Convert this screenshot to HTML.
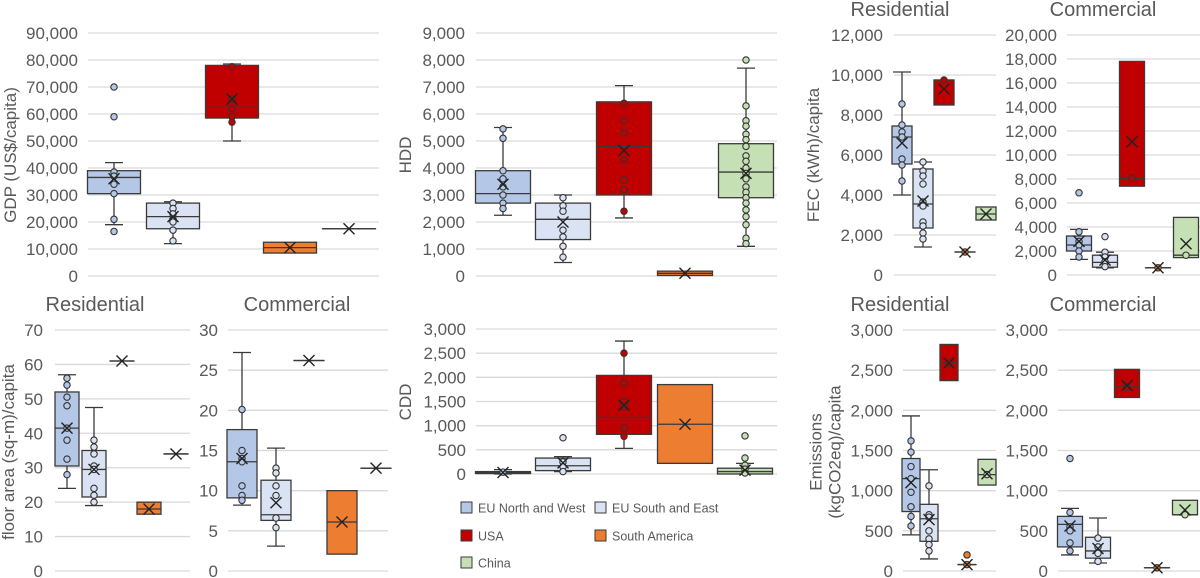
<!DOCTYPE html>
<html><head><meta charset="utf-8"><style>
html,body{margin:0;padding:0;background:#fff;width:1200px;height:578px;overflow:hidden}
svg text{font-family:"Liberation Sans",sans-serif;fill:#595959}
</style></head><body>
<svg id="c" width="1200" height="578" xmlns="http://www.w3.org/2000/svg"></svg>
<script>
const groups = ["EU North and West","EU South and East","USA","South America","China"];
const colors = ["#b4c7e7","#dae3f3","#c00000","#ed7d31","#c5e0b4"];
// stats: [whiskerLow, q1, median, q3, whiskerHigh, mean]
const gdpStats = [[19000,30500,36500,39000,42000,36000],[12000,17500,22000,27000,27500,22000],[50000,58500,62500,78000,78500,65500],[8500,8500,10500,12500,12500,10500],[17500,17500,17500,17500,17500,17500]];
const gdpPoints = [[70000,59000,38500,37000,34000,30500,21000,16500],[27000,25000,23000,21000,20000,17000,13000],[77500,65500,62000,59000,57000],[],[]];
const hddStats = [[2250,2700,3050,3900,5500,3400],[500,1350,2100,2700,3000,2000],[2150,3000,4800,6450,7050,4650],[20,20,100,180,180,100],[1100,2900,3850,4900,7700,3800]];
const hddPoints = [[5450,5100,3900,3600,3300,3000,2700,2500],[2900,2600,2400,1700,1450,1100,700],[6400,5750,5300,4300,3550,3200,2400],[],[8000,6300,5750,5550,5250,5050,4800,4450,4250,4000,3800,3600,3300,3100,2900,2700,2450,2200,1900,1400,1200]];
const fecResStats = [[4000,5550,6900,7450,10150,6600],[1400,2350,3550,5300,5650,3700],[8500,8500,9750,9750,9750,9300],[1150,1150,1150,1150,1150,1150],[2750,2750,3050,3400,3400,3050]];
const fecResPoints = [[8550,7500,7150,6900,5800,5500,4700],[5650,5200,4950,4550,3650,3450,2650,2450,2100,1800],[9750],[1150],[]];
const fecComStats = [[1300,2000,2500,3250,3800,2800],[600,650,1050,1650,1900,1250],[7400,7400,8050,17800,17800,11100],[600,600,600,600,600,600],[1450,1450,1650,4800,4800,2600]];
const fecComPoints = [[6850,3600,2800,2500,2000,1500],[3200,1900,1500,1100,700],[8050],[600],[1650]];
const faResStats = [[24,30.5,41.5,52,57,41.5],[19,21.5,29.5,35,47.5,29.5],[61,61,61,61,61,61],[16.5,16.5,18,20,20,18],[34,34,34,34,34,34]];
const faResPoints = [[56,54,50.5,48,41.5,38,32.5,28],[38,36,34,30.5,29.5,24,22,20],[],[],[]];
const faComStats = [[8.2,9.1,13.6,17.6,27.2,14],[3.1,6.3,7,11.3,15.3,8.5],[26.2,26.2,26.2,26.2,26.2,26.2],[2.1,2.1,6.1,10,10,6.1],[12.8,12.8,12.8,12.8,12.8,12.8]];
const faComPoints = [[20.1,15,14,13.6,10.6,9.4,8.8],[12.8,12.2,10.6,9.4,6.6,5.4],[],[],[]];
const cddStats = [[0,10,30,50,90,30],[50,70,170,330,360,230],[530,820,1170,2040,2750,1420],[220,220,1030,1850,1850,1030],[0,0,50,120,220,80]];
const cddPoints = [[40],[750,250,150,50],[2500,1880,1500,1400,950,780],[],[790,330,180,100,20]];
const emResStats = [[450,740,1150,1400,1930,1100],[150,370,650,830,1260,640],[2370,2370,2590,2820,2820,2590],[80,80,80,80,80,80],[1070,1070,1200,1390,1390,1210]];
const emResPoints = [[1620,1480,1300,1150,980,800,680,560],[1060,700,670,500,400,330,250],[2590],[200,80],[1200]];
const emComStats = [[200,300,580,680,780,560],[100,160,250,420,660,280],[2160,2160,2290,2510,2510,2310],[40,40,40,40,40,40],[700,700,700,880,880,760]];
const emComPoints = [[1400,730,550,500,350,250],[410,300,220,120],[2290],[40],[700]];

const NS="http://www.w3.org/2000/svg";
const svg=document.getElementById('c');
function mk(tag,attrs,parent){const e=document.createElementNS(NS,tag);for(const k in attrs)e.setAttribute(k,attrs[k]);(parent||svg).appendChild(e);return e;}
function fmt(v){return v.toLocaleString('en-US');}

function panel(cfg){
  const g=mk('g',{});
  
  
  const y=v=>cfg.y0+(cfg.y1-cfg.y0)*v/cfg.max;
  for(let t=0;t<=cfg.max+1e-9;t+=cfg.step){
    const ln=mk('line',{x1:cfg.gx0,x2:cfg.gx1,y1:y(t),y2:y(t),stroke:'#d9d9d9','stroke-width':1.3},g);
    
    
    const tx=mk('text',{x:cfg.lx,y:y(t)+6,'text-anchor':'end','font-size':17},g);
    tx.textContent=fmt(t);
    
    
  }
  if(cfg.title){
    const tt=mk('text',{x:cfg.tx,y:cfg.ty,'text-anchor':'middle','font-size':20},g);
    tt.textContent=cfg.title;
    
    
  }
  const lines=cfg.ytitle;
  lines.forEach((s,i)=>{
    const yx=cfg.ytx+i*19-(lines.length-1)*9.5;
    const t=mk('text',{x:yx,y:cfg.yty,'text-anchor':'middle','font-size':17,transform:`rotate(-90 ${yx} ${cfg.yty})`,dy:6},g);
    t.textContent=s;
    
    
  });
  cfg.stats.forEach((st,i)=>{
    const cx=cfg.cx[i],w=cfg.bw,col=colors[i];
    const bg=mk('g',{},g);
    
    
    const [lo,q1,md,q3,hi,mn]=st;
    const sk={stroke:'#3a3a3a','stroke-width':1.3};
    mk('line',Object.assign({x1:cx,x2:cx,y1:y(hi),y2:y(q3)},sk),bg);
    mk('line',Object.assign({x1:cx,x2:cx,y1:y(q1),y2:y(lo)},sk),bg);
    if(hi>q3) mk('line',Object.assign({x1:cx-9,x2:cx+9,y1:y(hi),y2:y(hi)},sk),bg);
    if(lo<q1) mk('line',Object.assign({x1:cx-9,x2:cx+9,y1:y(lo),y2:y(lo)},sk),bg);
    mk('rect',Object.assign({x:cx-w/2,y:y(q3),width:w,height:Math.max(0.01,y(q1)-y(q3)),fill:col},sk),bg);
    mk('line',Object.assign({x1:cx-w/2,x2:cx+w/2,y1:y(md),y2:y(md)},sk),bg);
    cfg.points[i].forEach(p=>{
      const c=mk('circle',{cx:cx,cy:y(p),r:3.2,fill:col,stroke:'#333','stroke-width':1.1},bg);
      
      
    });
    const m=y(mn),s=5.5;
    const mx=mk('path',{d:`M${cx-s},${m-s}L${cx+s},${m+s}M${cx-s},${m+s}L${cx+s},${m-s}`,stroke:'#222','stroke-width':1.4,fill:'none'},bg);
    
    
  });
}

panel({name:'gdp-panel',max:90000,step:10000,y0:276,y1:33,gx0:88,gx1:379,lx:78,cx:[114,173,232,290,349],bw:53,stats:gdpStats,points:gdpPoints,ytitle:['GDP (US$/capita)'],ytx:10,yty:155});
panel({name:'hdd-panel',max:9000,step:1000,y0:276,y1:33,gx0:476,gx1:777,lx:465,cx:[503,563,624,685,746],bw:55,stats:hddStats,points:hddPoints,ytitle:['HDD'],ytx:405,yty:155});
panel({name:'fec-residential-panel',max:12000,step:2000,y0:275,y1:35,gx0:894,gx1:996,lx:883,cx:[902,923,944,965,986],bw:20,stats:fecResStats,points:fecResPoints,ytitle:['FEC (kWh)/capita'],ytx:813,yty:155,title:'Residential',tx:900,ty:16});
panel({name:'fec-commercial-panel',max:20000,step:2000,y0:275,y1:35,gx0:1067,gx1:1200,lx:1057,cx:[1079,1105,1132,1158,1186],bw:25,stats:fecComStats,points:fecComPoints,ytitle:[],title:'Commercial',tx:1103,ty:16});
panel({name:'floor-area-residential-panel',max:70,step:10,y0:571,y1:330,gx0:55,gx1:190,lx:43,cx:[67,94,122,149,176],bw:24,stats:faResStats,points:faResPoints,ytitle:['floor area (sq-m)/capita'],ytx:8,yty:452,title:'Residential',tx:95,ty:311});
panel({name:'floor-area-commercial-panel',max:30,step:5,y0:571,y1:330,gx0:228,gx1:388,lx:218,cx:[242,276,309,342,376],bw:30,stats:faComStats,points:faComPoints,ytitle:[],title:'Commercial',tx:297,ty:311});
panel({name:'cdd-panel',max:3000,step:500,y0:474,y1:329,gx0:476,gx1:777,lx:466,cx:[503,563,624,685,745],bw:55,stats:cddStats,points:cddPoints,ytitle:['CDD'],ytx:405,yty:402});
panel({name:'emissions-residential-panel',max:3000,step:500,y0:571,y1:330,gx0:903,gx1:996,lx:893,cx:[911,929,949,967,987],bw:18,stats:emResStats,points:emResPoints,ytitle:['Emissions','(kgCO2eq)/capita'],ytx:825,yty:452,title:'Residential',tx:900,ty:311});
panel({name:'emissions-commercial-panel',max:3000,step:500,y0:571,y1:330,gx0:1058,gx1:1200,lx:1048,cx:[1070,1098,1127,1157,1185],bw:25,stats:emComStats,points:emComPoints,ytitle:[],title:'Commercial',tx:1103,ty:311});

// legend
const lg=mk('g',{});


const lpos=[[461,508],[595,508],[461,536],[595,536],[461,563]];
groups.forEach((n,i)=>{
  const [x,yy]=lpos[i];
  const e=mk('g',{},lg);
  
  
  mk('rect',{x:x,y:yy-6,width:11,height:11,fill:colors[i],stroke:'#3a3a3a','stroke-width':1},e);
  const t=mk('text',{x:x+17,y:yy+4.5,'font-size':12.5},e);
  t.textContent=n;
});
</script>
</body></html>
